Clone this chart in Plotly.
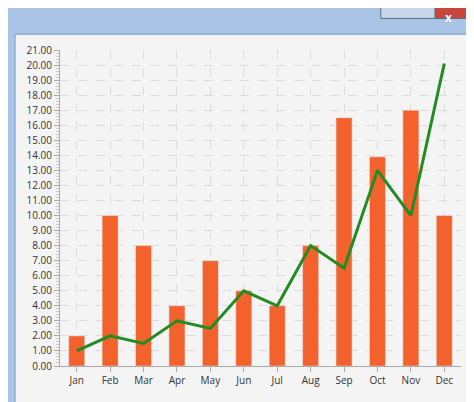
import plotly.graph_objects as go

months = ["Jan", "Feb", "Mar", "Apr", "May", "Jun", "Jul", "Aug", "Sep", "Oct", "Nov", "Dec"]
bar_values = [2, 10, 8, 4, 7, 5, 4, 8, 16.5, 13.9, 17, 10]
line_values = [1, 2, 1.5, 3, 2.5, 5, 4, 8, 6.5, 13, 10, 20.1]

fig = go.Figure()
fig.add_bar(x=months, y=bar_values, marker_color="#f3622d", width=0.48)
fig.add_scatter(x=months, y=line_values, mode="lines",
                line=dict(color="#228b22", width=3))

# window chrome: light content panel inside blue frame, title bar buttons
fig.add_shape(type="rect", xref="paper", yref="paper", x0=-0.112, x1=1.035, y0=-0.117, y1=1.05,
              fillcolor="#f4f4f4", line=dict(color="#7a9cc4", width=1), layer="below")
fig.add_shape(type="rect", xref="paper", yref="paper", x0=0.8, x1=1.03, y0=1.1, y1=1.175,
              fillcolor="#c8d8ea", line=dict(color="#5a6f8a", width=1))
fig.add_shape(type="rect", xref="paper", yref="paper", x0=0.935, x1=1.03, y0=1.1, y1=1.175,
              fillcolor="#c9463d", line=dict(color="#5a6f8a", width=1))
fig.add_annotation(xref="paper", yref="paper", x=0.982, y=1.137, text="<b>x</b>", showarrow=False,
                   font=dict(color="white", size=12))

fig.update_layout(
    width=474, height=402,
    margin=dict(l=52, r=21, t=42, b=44, autoexpand=False),
    paper_bgcolor="#a9c4e4",
    plot_bgcolor="rgba(0,0,0,0)",
    showlegend=False,
    font=dict(family="Open Sans", size=10, color="#333"),
    xaxis=dict(showgrid=True, gridcolor="#dcdcdc", griddash="dash", ticks="outside",
               ticklen=5, tickcolor="#aaa", showline=True, linecolor="#aaa", automargin=False),
    yaxis=dict(range=[0, 21], dtick=1, tickformat=".2f", showgrid=True, gridcolor="#dcdcdc",
               griddash="dash", ticks="outside", ticklen=5, tickcolor="#aaa", automargin=False,
               showline=True, linecolor="#aaa", zeroline=False,
               minor=dict(dtick=0.2, ticks="outside", ticklen=3, tickcolor="#ccc", showgrid=False)),
)
fig.write_html("out.html")
